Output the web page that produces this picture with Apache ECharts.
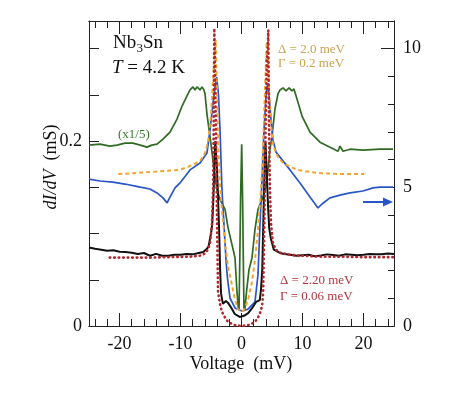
<!DOCTYPE html>
<html>
<head>
<meta charset="utf-8">
<script src="https://cdn.jsdelivr.net/npm/echarts@6/dist/echarts.min.js"></script>
<style>
html,body{margin:0;padding:0;background:#fff;}
#chart{width:474px;height:395px;}
</style>
</head>
<body>
<div id="chart"></div>
<script>
// ---- data ----
const xMinorTicks = [-24,-22,-20,-18,-16,-14,-12,-10,-8,-6,-4,-2,0,2,4,6,8,10,12,14,16,18,20,22,24];
const xMajorTicks = [-20,-10,0,10,20];
const leftTicks = [0,0.05,0.1,0.15,0.2,0.25,0.3];
const leftLabels = [0,0.2];
const rightMinorTicks = [0,1,2,3,4,5,6,7,8,9,10];
const rightMajorTicks = [0,5,10];

// black: measured dI/dV (mS), left axis
const blackV = [-25,-24,-23,-22,-21,-20,-19,-18,-17,-16,-15,-14,-13,-12,-11,-10,-9,-8,-7,
  -6.3,-5.8,-5.4,-5.0,-4.8,-4.6,-4.45,-4.3,-4.15,-3.95,-3.8,-3.65,-3.5,-3.35,-3.05,-2.8,-2.55,-2.2,-1.7,-1.1,-0.3,
  0.4,1.1,1.7,2.1,2.4,2.7,3.0,3.2,3.4,3.55,3.7,3.93,4.15,4.35,4.55,4.85,5.3,6.3,
  7,8,9,10,11,12,13,14,15,16,17,18,19,20,21,22,23,24,25];
const blackG = [0.085,0.0835,0.0826,0.0815,0.082,0.0804,0.080,0.0793,0.078,0.079,0.076,0.078,0.0761,0.076,0.077,0.0772,0.078,0.0775,0.079,
  0.080,0.0826,0.086,0.100,0.110,0.140,0.172,0.200,0.185,0.160,0.130,0.100,0.060,0.035,0.024,0.023,0.027,0.025,0.020,0.013,0.0098,
  0.011,0.014,0.019,0.023,0.026,0.024,0.028,0.040,0.061,0.104,0.148,0.199,0.165,0.130,0.105,0.0935,0.0826,0.079,
  0.078,0.0772,0.076,0.0765,0.077,0.0755,0.0762,0.0775,0.0768,0.076,0.0775,0.077,0.0765,0.0772,0.078,0.0775,0.0776,0.0785,0.078];

// red dotted fit (Delta = 2.20 meV, Gamma = 0.06 meV), left axis
const redV = [-21.6,-18,-15,-12,-8.4,-6.8,-6.0,-5.5,-5.15,-4.85,-4.65,-4.55,-4.46,-4.36,-4.2,-4.0,-3.85,-3.5,-3.2,-2.7,-2.2,-1.2,0,
  1.2,2.2,2.7,3.1,3.4,3.55,3.75,3.95,4.15,4.3,4.39,4.5,4.65,4.85,5.15,5.65,6.3,8,9.6,13,16,20,25];
const redG = [0.074,0.074,0.074,0.0745,0.075,0.0761,0.0783,0.0826,0.090,0.110,0.150,0.224,0.322,0.29,0.213,0.110,0.037,0.0228,0.0152,0.009,0.0043,0.0011,0.0,
  0.0011,0.0043,0.009,0.0152,0.0228,0.037,0.11,0.213,0.29,0.30,0.32,0.224,0.15,0.11,0.09,0.0826,0.0793,0.077,0.0761,0.075,0.075,0.0745,0.0745];

// green: (x1/5) curve, left axis
const greenV = [-25,-23.2,-21.6,-20.4,-19.1,-17.8,-16.6,-15.5,-14.7,-13.85,-12.87,-11.72,-10.57,-9.75,-8.93,-8.44,-7.95,-7.62,-7.3,-6.8,-6.48,-6.15,
  -5.98,-5.66,-5.33,-5.0,-4.51,-4.02,-3.52,-2.7,-2.21,-1.56,-1.07,-0.74,-0.52,-0.41,-0.28,-0.15,0.03,0.18,0.3,0.41,0.57,0.82,1.23,1.72,2.21,2.7,3.36,3.85,4.18,
  4.67,5.0,5.49,5.98,6.31,6.8,7.3,7.79,8.28,8.6,9.1,9.92,11.23,12.87,14.5,15.82,16.15,16.64,17.79,19.92,22.7,24.84];
const greenG = [0.1957,0.1967,0.1946,0.1957,0.1978,0.1978,0.1957,0.1935,0.1957,0.1967,0.2022,0.2098,0.2239,0.238,0.2489,0.2554,0.2587,0.2554,0.2587,0.2554,0.2587,0.2554,
  0.2511,0.2293,0.213,0.1967,0.1696,0.1478,0.137,0.1261,0.1065,0.088,0.0739,0.037,0.0196,0.0163,0.0717,0.137,0.1967,0.137,0.0717,0.0163,0.0196,0.037,0.0609,0.0739,0.1043,0.1261,0.137,0.1457,0.1587,
  0.1913,0.2054,0.2348,0.2511,0.2554,0.2576,0.2543,0.2576,0.2543,0.2565,0.2457,0.2272,0.2098,0.1989,0.1935,0.1891,0.1946,0.1891,0.1913,0.1902,0.1913,0.1913];

// blue: right axis
const blueV = [-25,-23.2,-21.1,-19.1,-16.6,-15.0,-13.85,-12.87,-12.2,-11.72,-10.9,-10.08,-8.44,-6.8,-5.66,-5.16,-4.67,-4.34,-4.07,-3.77,-3.52,-3.2,-2.87,-2.54,-2.3,-1.89,-1.07,
  0.08,1.07,2.21,2.7,3.03,3.36,3.69,4.02,4.3,4.51,4.84,5.16,5.66,6.31,7.95,9.59,11.23,12.54,13.2,14.5,16.15,17.79,19.92,21.56,22.7,24.84];
const blueR = [5.30,5.23,5.19,5.12,5.01,4.94,4.80,4.62,4.44,4.65,4.98,5.16,5.63,5.88,6.24,7.07,8.04,8.62,8.98,8.33,7.07,4.90,3.64,2.38,1.73,1.01,0.65,
  0.54,0.61,0.87,1.84,3.64,5.27,7.07,8.33,8.76,8.33,7.43,6.71,6.27,6.09,5.63,5.16,4.65,4.26,4.40,4.62,4.72,4.80,4.87,4.98,5.01,5.01];

// orange dashed fit (Delta = 2.0 meV, Gamma = 0.2 meV), right axis
const orangeV = [-20.2,-15,-10.1,-8.44,-6.8,-5.98,-5.49,-5.0,-4.67,-4.43,-4.23,-4.02,-3.85,-3.52,-3.2,-2.7,-2.21,-1.56,-1.07,-0.57,-0.08,
  0.41,1.07,1.72,2.21,2.7,3.2,3.52,3.85,4.13,4.34,4.59,4.84,5.16,5.98,6.8,9.1,12.38,16.15,20.1];
const orangeR = [5.48,5.55,5.63,5.77,5.95,6.24,6.64,7.61,8.87,9.77,10.31,8.51,6.71,5.08,4.18,2.99,2.13,1.48,0.94,0.61,0.50,
  0.58,0.94,1.59,2.38,3.46,4.90,6.35,8.51,10.24,9.59,8.15,7.25,6.53,6.09,5.88,5.63,5.52,5.48,5.48];

const zip = (a, b) => a.map((v, i) => [v, b[i]]);

const SERIF = '"Liberation Serif", "DejaVu Serif", serif';
const AX = '#222';

const chart = echarts.init(document.getElementById('chart'), null, {renderer: 'canvas'});

function xAx(pos, ticks, len, labels) {
  return {
    type: 'value', min: -25, max: 25, position: pos,
    axisLine: {show: true, onZero: false, lineStyle: {color: AX, width: 1}},
    axisTick: {show: true, inside: true, length: len, customValues: ticks, lineStyle: {color: AX, width: 1}},
    axisLabel: labels ? {show: true, customValues: labels, fontFamily: SERIF, fontSize: 18, color: '#111', margin: 9} : {show: false},
    splitLine: {show: false}
  };
}
function yAx(pos, max, ticks, len, labels, margin) {
  return {
    type: 'value', min: 0, max: max, position: pos,
    axisLine: {show: true, onZero: false, lineStyle: {color: AX, width: 1}},
    axisTick: {show: true, inside: true, length: len, customValues: ticks, lineStyle: {color: AX, width: 1}},
    axisLabel: labels ? {show: true, customValues: labels, fontFamily: SERIF, fontSize: 18, color: '#111', margin: margin,
      formatter: v => String(Math.round(v * 100) / 100)} : {show: false},
    splitLine: {show: false}
  };
}

const option = {
  animation: false,
  backgroundColor: '#fff',
  grid: {left: 89, right: 80, top: 21, bottom: 69, show: false},
  xAxis: [
    xAx('bottom', xMinorTicks, 7, null),
    xAx('bottom', xMajorTicks, 13, xMajorTicks),
    xAx('top', xMinorTicks, 7, null),
    xAx('top', xMajorTicks, 13, null)
  ],
  yAxis: [
    yAx('left', 0.33, leftTicks, 10, leftLabels, 7),
    yAx('right', 11, rightMinorTicks, 6, null, 9),
    yAx('right', 11, rightMajorTicks, 13, rightMajorTicks, 9)
  ],
  series: [
    {name: 'green', type: 'line', xAxisIndex: 0, yAxisIndex: 0, data: zip(greenV, greenG), showSymbol: false, symbol: 'none',
      lineStyle: {color: '#2f6b22', width: 1.7}, z: 2},
    {name: 'blue', type: 'line', xAxisIndex: 0, yAxisIndex: 1, data: zip(blueV, blueR), showSymbol: false, symbol: 'none',
      lineStyle: {color: '#2a55c8', width: 1.7}, z: 3},
    {name: 'black', type: 'line', xAxisIndex: 0, yAxisIndex: 0, data: zip(blackV, blackG), showSymbol: false, symbol: 'none',
      lineStyle: {color: '#111', width: 2}, z: 4},
    {name: 'orange', type: 'line', xAxisIndex: 0, yAxisIndex: 1, data: zip(orangeV, orangeR), showSymbol: false, symbol: 'none',
      lineStyle: {color: '#f0a530', width: 2, type: [4, 3]}, z: 5},
    {name: 'red', type: 'line', xAxisIndex: 0, yAxisIndex: 0, data: zip(redV, redG), showSymbol: false, symbol: 'none',
      lineStyle: {color: '#b3262b', width: 2.6, type: [0.5, 4], cap: 'round'}, z: 6}
  ],
  graphic: [
    {type: 'text', x: 113, y: 43, style: {text: 'Nb', font: '19px ' + SERIF, fill: '#111', textVerticalAlign: 'middle'}},
    {type: 'text', x: 136.5, y: 49, style: {text: '3', font: '13px ' + SERIF, fill: '#111', textVerticalAlign: 'middle'}},
    {type: 'text', x: 143, y: 43, style: {text: 'Sn', font: '19px ' + SERIF, fill: '#111', textVerticalAlign: 'middle'}},
    {type: 'text', x: 112, y: 68, style: {text: '{i|T} = 4.2 K', font: '19px ' + SERIF, fill: '#111', textVerticalAlign: 'middle',
      rich: {i: {fontStyle: 'italic', fontFamily: SERIF, fontSize: 19}}}},
    {type: 'text', x: 118, y: 135, style: {text: '(x1/5)', font: '13px ' + SERIF, fill: '#3a7a30', textVerticalAlign: 'middle'}},
    {type: 'text', x: 278, y: 50, style: {text: 'Δ = 2.0 meV', font: '13px ' + SERIF, fill: '#c9a24e', textVerticalAlign: 'middle'}},
    {type: 'text', x: 278, y: 64, style: {text: 'Γ = 0.2 meV', font: '13px ' + SERIF, fill: '#c9a24e', textVerticalAlign: 'middle'}},
    {type: 'text', x: 280, y: 281, style: {text: 'Δ = 2.20 meV', font: '13px ' + SERIF, fill: '#b5343c', textVerticalAlign: 'middle'}},
    {type: 'text', x: 280, y: 297, style: {text: 'Γ = 0.06 meV', font: '13px ' + SERIF, fill: '#b5343c', textVerticalAlign: 'middle'}},
    {type: 'text', x: 241, y: 364, style: {text: 'Voltage  (mV)', font: '18px ' + SERIF, fill: '#111', textAlign: 'center', textVerticalAlign: 'middle'}},
    {type: 'text', x: 51, y: 167, rotation: Math.PI / 2, style: {text: '{i|dI/dV}  (mS)', font: '18px ' + SERIF, fill: '#111',
      textAlign: 'center', textVerticalAlign: 'middle', rich: {i: {fontStyle: 'italic', fontFamily: SERIF, fontSize: 18}}}},
    {type: 'line', shape: {x1: 363, y1: 202, x2: 386, y2: 202}, style: {stroke: '#2a55c8', lineWidth: 2}},
    {type: 'polygon', shape: {points: [[383, 197.5], [393, 202], [383, 206.5]]}, style: {fill: '#2a55c8'}}
  ]
};
chart.setOption(option);
</script>
</body>
</html>
